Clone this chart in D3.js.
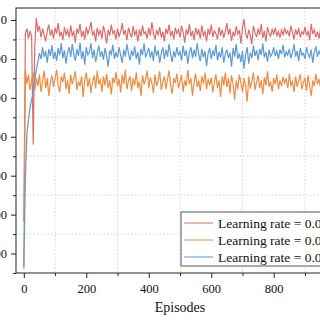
<!DOCTYPE html>
<html>
<head>
<meta charset="utf-8">
<script src="https://cdn.jsdelivr.net/npm/d3@7"></script>
<style>
  body { margin: 0; background: #fff; }
  text { font-family: "Liberation Serif", "Times New Roman", serif; }
</style>
</head>
<body>
<script>
// episodes sampled every 5
var episodes = d3.range(0, 1001, 5);

var seriesNames = ["Learning rate = 0.001", "Learning rate = 0.005", "Learning rate = 0.01"];
var seriesColors = ["#e06a6a", "#f08c40", "#5b9ad8"];

var redValues = [
  -518, -35, -22, -48, -28, -42, -320, -70, 5, -30,
  -15, -45, -22, -38, -55, -28, -12, -40, -25, -48,
  -20, -35, -8, -42, -30, -52, -18, -38, -26, -45,
  -14, -40, -30, -58, -22, -35, -10, -44, -28, -50,
  -18, -36, -24, -5, -40, -30, -55, -20, -38, -26,
  -48, -15, -33, -60, -25, -40, -12, -35, -28, -50,
  -22, -42, -30, -8, -38, -26, -52, -20, -34, -45,
  -16, -38, -28, -55, -24, -42, -14, -36, -30, -48,
  -20, -40, -6, -34, -50, -26, -38, -18, -45, -30,
  -55, -22, -36, -12, -42, -28, -50, -20, -35, -25,
  -45, -15, -32, -58, -24, -38, -10, -42, -28, -52,
  -20, -36, -26, -48, -14, -40, -30, -55, -22, -38,
  -12, -44, -28, -35, -50, -18, -40, -25, -46, -30,
  -8, -38, -22, -54, -30, -42, -16, -36, -26, -60,
  -20, 2, -35, -48, -25, -40, -62, -15, -32, -44,
  -22, -38, -10, -46, -28, -55, -18, -34, -42, -24,
  -36, -20, -40, -30, -45, -26, -38, -22, -35, -28,
  -42, -15, -32, -50, -24, -38, -20, -45, -30, -36,
  -18, -40, -28, -52, -10, -36, -25, -44, -30, -48,
  -22, -38, -26, -42, -34, -28, -46, -30, -40, -32,
  -36
];

var orangeValues = [
  -640, -128, -165, -140, -180, -155, -135, -180, -150, -170,
  -140, -185, -158, -130, -175, -150, -195, -160, -142, -172,
  -150, -128, -168, -185, -145, -160, -135, -178, -155, -190,
  -140, -165, -150, -132, -180, -158, -170, -145, -198, -155,
  -135, -172, -150, -188, -160, -142, -176, -130, -165, -152,
  -185, -145, -168, -138, -175, -155, -192, -148, -162, -134,
  -170, -152, -186, -140, -164, -128, -178, -156, -145, -182,
  -150, -168, -135, -175, -158, -195, -142, -165, -152, -130,
  -176, -148, -162, -188, -140, -170, -155, -132, -180, -160,
  -145, -178, -152, -130, -168, -190, -150, -162, -138, -175,
  -158, -142, -185, -155, -170, -128, -165, -150, -195, -160,
  -138, -172, -156, -182, -145, -165, -135, -178, -152, -168,
  -148, -186, -160, -140, -175, -155, -198, -145, -168, -135,
  -172, -150, -188, -142, -165, -205, -155, -178, -140, -162,
  -185, -150, -170, -210, -145, -176, -158, -135, -180, -160,
  -142, -175, -155, -190, -148, -168, -132, -172, -158, -184,
  -150, -165, -140, -178, -155, -170, -146, -162, -150, -175,
  -138, -168, -158, -185, -145, -172, -155, -140, -178, -160,
  -150, -182, -142, -168, -196, -155, -170, -138, -165, -152,
  -175, -148, -162, -140, -170, -155, -185, -150, -165, -158,
  -160
];

var blueValues = [
  -633, -410, -290, -256, -225, -205, -185, -154, -128, -108,
  -85, -100, -70, -95, -80, -110, -75, -92, -65, -100,
  -82, -105, -72, -90, -60, -98, -78, -112, -85, -70,
  -95, -62, -88, -105, -75, -92, -58, -100, -80, -115,
  -70, -90, -82, -60, -98, -76, -108, -85, -66, -95,
  -80, -102, -72, -92, -120, -78, -88, -64, -100, -84,
  -96, -70, -90, -110, -76, -94, -62, -86, -104, -78,
  -92, -68, -100, -82, -115, -74, -90, -60, -96, -84,
  -72, -98, -80, -106, -66, -92, -78, -110, -86, -70,
  -100, -76, -94, -62, -88, -108, -80, -96, -70, -90,
  -82, -104, -66, -92, -78, -112, -84, -70, -98, -76,
  -94, -60, -88, -106, -74, -96, -80, -118, -86, -72,
  -100, -78, -92, -64, -104, -82, -96, -70, -110, -88,
  -76, -98, -84, -120, -72, -94, -62, -100, -86, -108,
  -80, -125, -90, -70, -112, -84, -98, -66, -92, -78,
  -104, -74, -90, -60, -96, -82, -108, -76, -94, -86,
  -70, -92, -80, -100, -76, -88, -64, -96, -82, -90,
  -74, -98, -84, -62, -94, -80, -106, -72, -90, -86,
  -100, -70, -88, -96, -76, -110, -82, -68, -94, -80,
  -90, -76, -102, -84, -66, -96, -80, -92, -74, -88,
  -84
];

var allSeries = [redValues, orangeValues, blueValues];

var xTicks = [0, 200, 400, 600, 800, 1000];
var xMinor = [100, 300, 500, 700, 900];
var yTicks = [0, -100, -200, -300, -400, -500, -600];
var yMinor = [-50, -150, -250, -350, -450, -550, -650];

var svg = d3.select("body").append("svg")
  .attr("width", 320)
  .attr("height", 320);

var mLeft = 16, mTop = 8, mRight = 344, mBottom = 273;

var x = d3.scaleLinear().domain([-25, 1025]).range([mLeft, mRight]);
var y = d3.scaleLinear().domain([-650, 30.8]).range([mBottom, mTop]);

// dotted grid at minor positions
svg.append("g").selectAll("line")
  .data(xMinor).enter().append("line")
  .attr("x1", function(d) { return x(d); }).attr("x2", function(d) { return x(d); })
  .attr("y1", mTop).attr("y2", mBottom)
  .style("stroke", "#d4d4d4").style("stroke-dasharray", "1.5,2").style("stroke-width", 1);

svg.append("g").selectAll("line")
  .data(yMinor.slice(0, 6)).enter().append("line")
  .attr("x1", mLeft).attr("x2", mRight)
  .attr("y1", function(d) { return y(d); }).attr("y2", function(d) { return y(d); })
  .style("stroke", "#d4d4d4").style("stroke-dasharray", "1.5,2").style("stroke-width", 1);

var line = d3.line()
  .x(function(d, i) { return x(episodes[i]); })
  .y(function(d) { return y(d); });

svg.append("g").selectAll("path")
  .data(allSeries).enter().append("path")
  .attr("d", line)
  .style("fill", "none")
  .style("stroke", function(d, i) { return seriesColors[i]; })
  .style("stroke-width", 1.2);

// box
svg.append("rect")
  .attr("x", mLeft).attr("y", mTop)
  .attr("width", mRight - mLeft).attr("height", mBottom - mTop)
  .style("fill", "none").style("stroke", "#222").style("stroke-width", 1);

// axes
svg.append("g").attr("transform", "translate(0," + mBottom + ")")
  .call(d3.axisBottom(x).tickValues(xTicks).tickSize(5).tickPadding(6));
svg.append("g").attr("transform", "translate(0," + mBottom + ")")
  .call(d3.axisBottom(x).tickValues(xMinor).tickSize(3).tickFormat(""));
svg.append("g").attr("transform", "translate(" + mLeft + ",0)")
  .call(d3.axisLeft(y).tickValues(yTicks).tickSize(5).tickPadding(4));
svg.append("g").attr("transform", "translate(" + mLeft + ",0)")
  .call(d3.axisLeft(y).tickValues(yMinor).tickSize(3).tickFormat(""));

svg.selectAll(".domain").remove();
svg.selectAll(".tick line").style("stroke", "#222");
svg.selectAll(".tick text")
  .style("font-family", "'Liberation Serif', serif")
  .style("font-size", "12.5px")
  .style("fill", "#111");

svg.append("text")
  .attr("x", (mLeft + mRight) / 2).attr("y", 312)
  .attr("text-anchor", "middle")
  .style("font-size", "14px").style("fill", "#111")
  .text("Episodes");

// legend
var legend = svg.append("g").attr("transform", "translate(181,212)");
legend.append("rect")
  .attr("width", 160).attr("height", 54)
  .style("fill", "#fff").style("stroke", "#555").style("stroke-width", 1);

var items = legend.selectAll("g")
  .data(seriesNames).enter().append("g")
  .attr("transform", function(d, i) { return "translate(0," + (11 + i * 17) + ")"; });

items.append("line")
  .attr("x1", 3).attr("x2", 32).attr("y1", 0).attr("y2", 0)
  .style("stroke", function(d, i) { return seriesColors[i]; })
  .style("stroke-width", 1);

items.append("text")
  .attr("x", 37).attr("y", 4.5)
  .style("font-size", "13.5px").style("fill", "#111")
  .text(function(d) { return d; });
</script>
</body>
</html>
